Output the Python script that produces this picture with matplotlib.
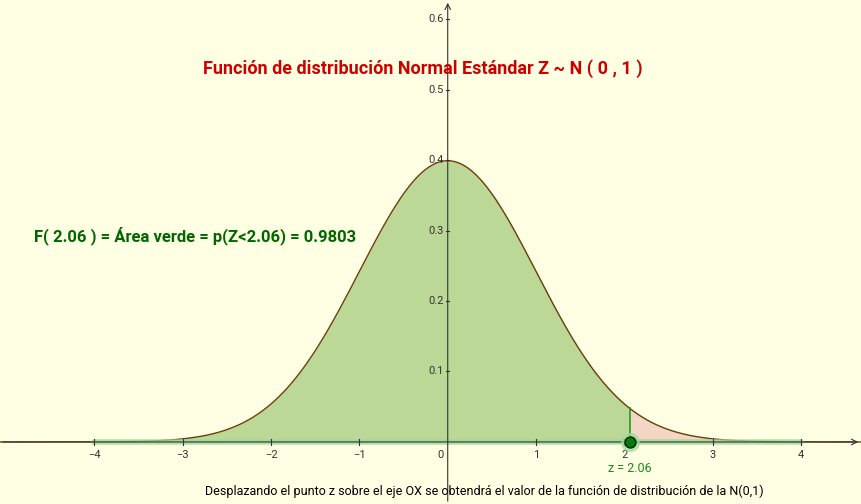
import math
import numpy as np
import matplotlib
matplotlib.use("Agg")
import matplotlib.pyplot as plt

plt.rcParams["font.family"] = ["Roboto", "DejaVu Sans"]

# values
z = 2.06
mu, sigma = 0.0, 1.0
x_ticks = [-4, -3, -2, -1, 1, 2, 3, 4]
y_ticks = [0.1, 0.2, 0.3, 0.4, 0.5, 0.6]
slider_range = [-4, 4]

F = 0.5 * (1 + math.erf((z - mu) / (sigma * math.sqrt(2))))


def pdf(x):
    return np.exp(-0.5 * ((x - mu) / sigma) ** 2) / (sigma * math.sqrt(2 * math.pi))


bg = "#ffffe3"
fig = plt.figure(figsize=(8.61, 5.04), dpi=100, facecolor=bg)
ax = fig.add_axes([0, 0, 1, 1], facecolor=bg)
ax.set_xlim(-5.07, 4.68)
ax.set_ylim(-0.088, 0.627)
ax.axis("off")

xs = np.linspace(-5.07, 4.68, 800)
xl = xs[xs <= z]
xr = xs[xs >= z]
ax.fill_between(xl, 0, pdf(xl), color="#bcd896", lw=0)
ax.fill_between(xr, 0, pdf(xr), color="#f3d6c4", lw=0)
ax.plot(xs, pdf(xs), color="#6b3a0a", lw=1)
ax.plot([z, z], [0, pdf(z)], color="#1a9a1a", lw=1.2)

# axes
ax.annotate("", xy=(4.68, 0), xytext=(-5.07, 0),
            arrowprops=dict(arrowstyle="->", color="#333333", lw=0.8))
ax.annotate("", xy=(0, 0.627), xytext=(0, -0.088),
            arrowprops=dict(arrowstyle="->", color="#333333", lw=0.8))
ax.plot([slider_range[0], slider_range[1]], [0, 0], color="#9fd99a", lw=4, alpha=0.8,
        solid_capstyle="round")
for t in x_ticks:
    ax.plot([t, t], [-0.004, 0.004], color="#333333", lw=0.8)
    ax.text(t, -0.012, str(t).replace("-", "\u2212"), ha="center", va="top",
            fontsize=8, color="#333333")
ax.text(-0.05, -0.012, "0", ha="right", va="top", fontsize=8, color="#333333")
for t in y_ticks:
    ax.plot([-0.02, 0.02], [t, t], color="#333333", lw=0.8)
    ax.text(-0.05, t, f"{t:g}", ha="right", va="center", fontsize=8, color="#333333")

ax.scatter([z], [0], s=160, color="#9fd99a", alpha=0.7, zorder=4)
ax.scatter([z], [0], s=60, color="#0b7a0b", edgecolor="#003300", lw=1.2, zorder=5)

ax.text(z, -0.028, f"z = {z:.2f}", ha="center", va="top", fontsize=9, color="#1a8a1a")
ax.text(0.41, -0.06, "Desplazando el punto z sobre el eje OX se obtendrá el valor de la "
        "función de distribución de la N(0,1)", ha="center", va="top", fontsize=9,
        color="#000000")
ax.text(-0.28, 0.529, "Función de distribución Normal Estándar Z ~ N ( 0 , 1 )",
        ha="center", va="center", fontsize=13, color="#cc0000", fontweight="bold")
ax.text(-4.68, 0.292, f"F( {z:.2f} ) = Área verde = p(Z<{z:.2f}) = {F:.4f}",
        ha="left", va="center", fontsize=12, color="#006600", fontweight="bold")

fig.savefig("out.png", dpi=100, facecolor=bg)
